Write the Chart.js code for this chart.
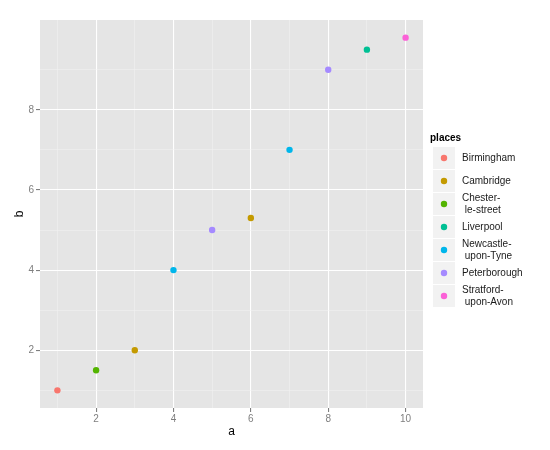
<!DOCTYPE html>
<html>
<head>
<meta charset="utf-8">
<script src="https://cdn.jsdelivr.net/npm/chart.js@4"></script>
<style>
  body { margin: 0; background: #fff; }
  #wrap { width: 550px; height: 450px; }
</style>
</head>
<body>
<div id="wrap"><canvas id="plot" width="550" height="450"></canvas></div>
<script>
// values
const a = [1, 2, 3, 4, 5, 6, 7, 8, 9, 10];
const b = [1, 1.5, 2, 4, 5, 5.3, 7, 9, 9.5, 9.8];
const pointPlaces = ['Birmingham', 'Chester-\n le-street', 'Cambridge', 'Newcastle-\n upon-Tyne', 'Peterborough',
    'Cambridge', 'Newcastle-\n upon-Tyne', 'Peterborough', 'Liverpool', 'Stratford-\n upon-Avon'];

// legend order + ggplot hue palette
const places = ['Birmingham', 'Cambridge', 'Chester-\n le-street', 'Liverpool', 'Newcastle-\n upon-Tyne', 'Peterborough', 'Stratford-\n upon-Avon'];
const placeColors = ['#F8766D', '#C49A00', '#53B400', '#00C094', '#00B6EB', '#A58AFF', '#FB61D7'];

const xTicks = [1, 2, 3, 4, 5, 6, 7, 8, 9, 10];
const yTicks = [1, 2, 3, 4, 5, 6, 7, 8, 9];

const FONT = '"Liberation Sans", Arial, sans-serif';

function buildDatasets() {
    return places.map((p, i) => ({
        label: p,
        data: a.map((x, k) => ({ x: x, y: b[k], p: pointPlaces[k] }))
               .filter(d => d.p === p),
        backgroundColor: placeColors[i],
        borderColor: placeColors[i],
        pointRadius: 3.2,
        pointHoverRadius: 3.2,
        borderWidth: 0
    }));
}

const panelBg = {
    id: 'panelBg',
    beforeDraw(chart) {
        const { ctx, chartArea: c } = chart;
        ctx.save();
        ctx.fillStyle = '#E5E5E5';
        ctx.fillRect(c.left, c.top, c.right - c.left, c.bottom - c.top);
        ctx.restore();
    }
};

const ggLegend = {
    id: 'ggLegend',
    afterDraw(chart) {
        const ctx = chart.ctx;
        ctx.save();
        ctx.fillStyle = '#000';
        ctx.font = 'bold 10px ' + FONT;
        ctx.textBaseline = 'middle';
        ctx.fillText('places', 430, 138);

        places.forEach((p, i) => {
            const top = 147 + i * 23;
            const mid = top + 11;
            ctx.fillStyle = '#F2F2F2';
            ctx.fillRect(433, top, 22, 22);
            ctx.beginPath();
            ctx.fillStyle = placeColors[i];
            ctx.arc(444, mid, 3.2, 0, Math.PI * 2);
            ctx.fill();

            ctx.fillStyle = '#1a1a1a';
            ctx.font = '10px ' + FONT;
            const lines = p.split('\n');
            const lh = 12;
            lines.forEach((ln, j) => {
                ctx.fillText(ln, 462, mid + (j - (lines.length - 1) / 2) * lh);
            });
        });
        ctx.restore();
    }
};

function gridColor(ctx) {
    const v = ctx.tick && ctx.tick.value;
    return v % 2 === 0 ? '#FFFFFF' : '#F2F2F2';
}
function gridWidth(ctx) {
    const v = ctx.tick && ctx.tick.value;
    return v % 2 === 0 ? 1.1 : 0.5;
}
function tickColor(ctx) {
    const v = ctx.tick && ctx.tick.value;
    return v % 2 === 0 ? '#7F7F7F' : 'rgba(0,0,0,0)';
}
function evenLabel(v) {
    return v % 2 === 0 ? String(v) : '';
}

new Chart(document.getElementById('plot'), {
    type: 'scatter',
    data: { datasets: buildDatasets() },
    plugins: [panelBg, ggLegend],
    options: {
        responsive: false,
        animation: false,
        layout: { padding: { top: 20, right: 127, left: 0, bottom: 0 } },
        plugins: {
            legend: { display: false },
            tooltip: { enabled: false }
        },
        scales: {
            x: {
                type: 'linear',
                min: 0.55,
                max: 10.45,
                afterBuildTicks: s => { s.ticks = xTicks.map(v => ({ value: v })); },
                afterFit: s => { s.height = 42; },
                border: { display: false },
                grid: {
                    color: gridColor,
                    lineWidth: gridWidth,
                    tickColor: tickColor,
                    tickLength: 4,
                    drawTicks: true
                },
                ticks: {
                    callback: evenLabel,
                    color: '#7F7F7F',
                    font: { family: FONT, size: 10 },
                    padding: 1,
                    maxRotation: 0,
                    autoSkip: false
                },
                title: {
                    display: true,
                    text: 'a',
                    color: '#000',
                    font: { family: FONT, size: 12 },
                    padding: { top: 2, bottom: 11 }
                }
            },
            y: {
                type: 'linear',
                min: 0.56,
                max: 10.24,
                afterBuildTicks: s => { s.ticks = yTicks.map(v => ({ value: v })); },
                afterFit: s => { s.width = 40; },
                border: { display: false },
                grid: {
                    color: gridColor,
                    lineWidth: gridWidth,
                    tickColor: tickColor,
                    tickLength: 4,
                    drawTicks: true
                },
                ticks: {
                    callback: evenLabel,
                    color: '#7F7F7F',
                    font: { family: FONT, size: 10 },
                    padding: 2,
                    autoSkip: false
                },
                title: {
                    display: true,
                    text: 'b',
                    color: '#000',
                    font: { family: FONT, size: 12 },
                    padding: { top: 12, bottom: 0 }
                }
            }
        }
    }
});
</script>
</body>
</html>
